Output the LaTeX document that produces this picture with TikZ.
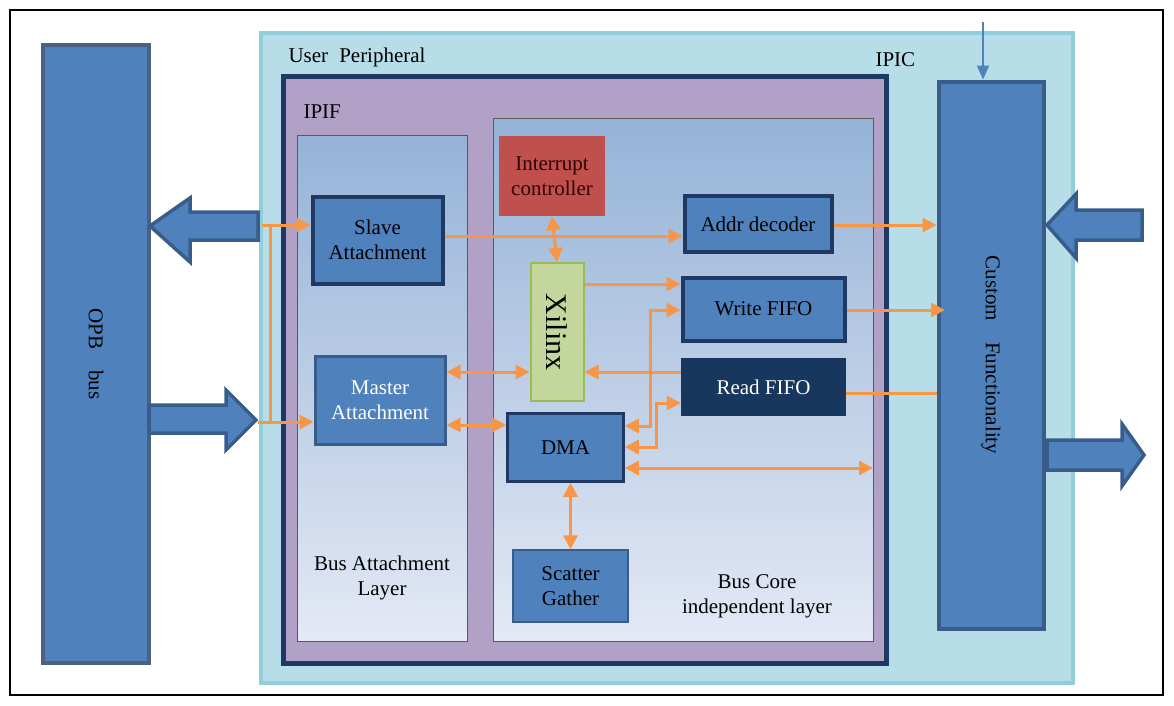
\documentclass[tikz,border=0pt]{standalone}
\usepackage{fontspec}
\setmainfont{Liberation Serif}
\usetikzlibrary{arrows.meta,shapes.arrows}
\definecolor{bl}{HTML}{4F81BD}
\definecolor{dk}{HTML}{1F3864}
\definecolor{md}{HTML}{385D8A}
\definecolor{cy}{HTML}{B7DDE8}
\definecolor{cyb}{HTML}{92CDDC}
\definecolor{pu}{HTML}{B2A1C7}
\definecolor{org}{HTML}{F79646}
\definecolor{rd}{HTML}{C0504D}
\definecolor{gr}{HTML}{C3D69B}
\definecolor{grb}{HTML}{9BBB59}
\definecolor{nv}{HTML}{17375E}
\definecolor{gt}{HTML}{95B3D7}
\definecolor{gb}{HTML}{E4E9F5}
\begin{document}
\begin{tikzpicture}[x=1pt,y=-1pt,
  txt/.style={font=\fontsize{21}{25}\selectfont,align=center},
  box/.style={draw=dk,line width=4pt,fill=bl,txt},
  panel/.style={draw=gray!70!black,line width=1pt,top color=gt,bottom color=gb},
  con/.style={draw=org,line width=3pt,-{Triangle[length=14pt,width=14pt]}},
  dcon/.style={draw=org,line width=3pt,{Triangle[length=14pt,width=14pt]}-{Triangle[length=14pt,width=14pt]}},
  plain/.style={draw=org,line width=3pt},
  barrow/.style={fill=bl,draw=md,line width=3.5pt,join=miter}]
\useasboundingbox (0,0) rectangle (1174,705);
\draw[line width=1.2pt] (10,10) rectangle (1163,695);
% OPB bus
\node[draw=dk!80,line width=4pt,fill=bl,minimum width=106pt,minimum height=618pt,anchor=north west] (opb) at (41,43) {};
\node[rotate=-90,txt] at (opb.center) {OPB\quad bus};
% peripheral
\node[draw=cyb,line width=4pt,fill=cy,minimum width=812pt,minimum height=650pt,anchor=north west] (up) at (259,31) {};
\node[txt,anchor=west] (upl) at (285,57) {User\; Peripheral};
\node[txt,anchor=west] (ipic) at (872,60) {IPIC};
\node[draw=dk,line width=5pt,fill=pu,minimum width=603pt,minimum height=587pt,anchor=north west] (ipif) at (281,74) {};
\node[txt,anchor=west] (ipifl) at (300,112) {IPIF};
\draw[panel] (297,135) rectangle (467,641);
\draw[panel] (493,118) rectangle (873,641);
\node[txt] (bal) at (382,578) {Bus Attachment\\Layer};
\node[txt] (bcl) at (757,596) {Bus Core\\independent layer};
% blocks
\node[fill=rd,txt,text=black!80!red,minimum width=106pt,minimum height=80pt] (ic) at (552,176) {Interrupt\\controller};
\node[box,minimum width=130pt,minimum height=87pt] (sa) at (377.5,240) {Slave\\Attachment};
\node[box,draw=md,line width=3pt,text=white,minimum width=130pt,minimum height=88pt] (ma) at (380,400) {Master\\Attachment};
\node[box,minimum width=147pt,minimum height=56pt] (ad) at (758,224) {Addr decoder};
\node[fill=gr,draw=grb,line width=2pt,minimum width=53pt,minimum height=138pt] (xi) at (557,332) {};
\node[rotate=-90,font=\fontsize{30}{34}\selectfont] at (xi.center) {Xilinx};
\node[box,minimum width=162pt,minimum height=63pt] (wf) at (763.5,309) {Write FIFO};
\node[fill=nv,txt,text=white,minimum width=165pt,minimum height=58pt] (rf) at (763.5,387) {Read FIFO};
\node[box,line width=2.5pt,minimum width=116pt,minimum height=68pt] (dma) at (565.5,447.5) {DMA};
\node[fill=bl,draw=md,line width=1.5pt,txt,minimum width=115pt,minimum height=72pt] (sg) at (570.5,586) {Scatter\\Gather};
\node[box,draw=md,minimum width=105pt,minimum height=547pt] (cf) at (991,355) {};
\node[rotate=-90,txt] at (cf.center) {Custom\quad Functionality};
% block arrows
\draw[barrow] (150,226) -- (190,198) -- (190,212) -- (258,212) -- (258,240) -- (190,240) -- (190,262) -- cycle;
\draw[barrow] (256,420) -- (226,390) -- (226,405) -- (149,405) -- (149,433) -- (226,433) -- (226,450) -- cycle;
\draw[barrow] (1047,225) -- (1076,194) -- (1076,210) -- (1142,210) -- (1142,240) -- (1076,240) -- (1076,258) -- cycle;
\draw[barrow] (1144,455) -- (1122,424) -- (1122,440) -- (1047,440) -- (1047,470) -- (1122,470) -- (1122,486) -- cycle;
% top arrow
\coordinate (tp) at (983,22);
\draw[draw=bl,line width=2pt,-{Triangle[length=14pt,width=12pt]}] (tp) -- (cf.north -| tp);
% orange connectors
\coordinate (j1) at (270,225);
\coordinate (j2) at (270,422);
\coordinate (s0) at (262,225);
\coordinate (m0) at (258,422);
\draw[plain] (j1) -- (j2);
\draw[con] (s0) -- (sa.west |- s0);
\draw[con] (m0) -- (ma.west |- m0);
\draw[con] (sa.east |- 0,236) -- (ad.west |- 0,236);
\draw[dcon] (ic.south) -- (xi.north);
\draw[dcon] (ma.east |- 0,372) -- (xi.west |- 0,372);
\draw[dcon] (ma.east |- 0,425) -- (dma.west |- 0,425);
\draw[con] (xi.east |- 0,284) -- (wf.west |- 0,284);
\draw[con] (rf.west |- 0,372) -- (xi.east |- 0,372);
\draw[dcon] (dma.east |- 0,426) -- (650,426) -- (650,310) -- (wf.west |- 0,310);
\draw[dcon] (dma.east |- 0,447) -- (656,447) -- (656,403) -- (rf.west |- 0,403);
\coordinate (bce) at (873,468);
\draw[dcon] (dma.east |- bce) -- (bce);
\draw[dcon] (dma.south -| sg) -- (sg.north);
\draw[con] (ad.east |- 0,225) -- (cf.west |- 0,225);
\draw[con] (wf.east |- 0,310) -- (945,310);
\draw[plain] (rf.east |- 0,393) -- (cf.west |- 0,393);
\end{tikzpicture}
\end{document}
